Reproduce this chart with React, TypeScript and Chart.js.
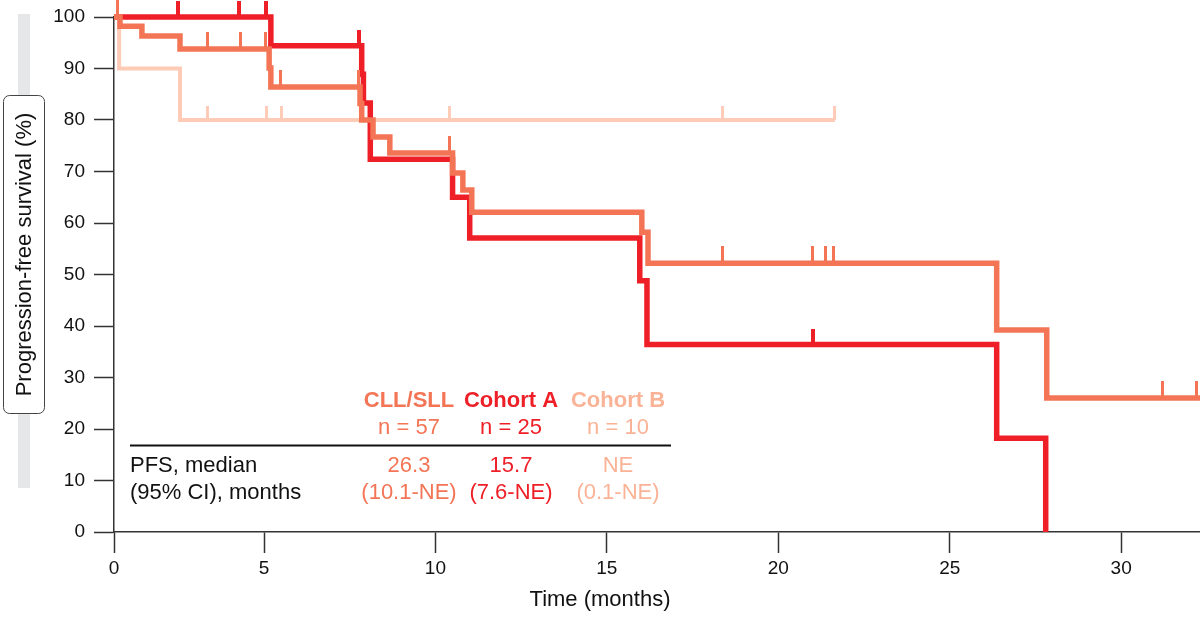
import React, { useEffect, useRef } from 'react';
import { Chart, registerables, LinearScale } from 'chart.js';

Chart.register(...registerables);

const FONT = "'Liberation Sans', Arial, Helvetica, sans-serif";

// Kaplan–Meier steps: value after each event time (months, %)
const cllTimes = [0, 0.2, 0.93, 2.2, 5.15, 5.2, 7.8, 7.85, 8.18, 8.67, 10.5, 10.8, 11.06, 16.02, 16.2, 26.37, 27.83, 32.3];
const cllSurvival = [100, 98.2, 96.3, 93.8, 90.1, 86.4, 83.2, 80.0, 76.7, 73.6, 69.7, 66.4, 62.1, 58.2, 52.2, 39.2, 26.0, 26.0];
const cllCensored = [0.1, 3.1, 4.2, 5.05, 5.48, 7.75, 10.42, 18.38, 21.0, 21.38, 21.6, 31.2, 32.2];

const cohortATimes = [0, 5.2, 7.85, 7.9, 8.1, 10.5, 11.0, 15.96, 16.17, 26.37, 27.8];
const cohortASurvival = [100, 94.4, 88.9, 83.3, 72.4, 65.0, 57.1, 48.8, 36.4, 18.2, 0];
const cohortACensored = [2.13, 4.17, 5.06, 7.77, 21.0];

const cohortBTimes = [0, 0.17, 2.2, 21.65];
const cohortBSurvival = [100, 90, 80, 80];
const cohortBCensored = [3.13, 5.06, 5.52, 10.42, 18.38, 21.65];

const xTickValues = [0, 5, 10, 15, 20, 25, 30];
const yTickValues = [0, 10, 20, 30, 40, 50, 60, 70, 80, 90, 100];
const xMax = 32.3;

// Summary table
const groupNames = ['CLL/SLL', 'Cohort A', 'Cohort B'];
const groupN = ['n = 57', 'n = 25', 'n = 10'];
const groupMedian = ['26.3', '15.7', 'NE'];
const groupCI = ['(10.1-NE)', '(7.6-NE)', '(0.1-NE)'];

const CLL_COLOR = '#F37556';
const A_COLOR = '#EE1F27';
const B_LINE = '#FDCBB6';
const B_TEXT = '#FAB396';
const groupTextColors = [CLL_COLOR, A_COLOR, B_TEXT];

// The first 5 months of the time axis are drawn slightly compressed.
const AXIS_BREAK = 5;
const EARLY_SCALE = 0.875;

class CompressedStartScale extends LinearScale {
  static id = 'compressedStart';
  static defaults = LinearScale.defaults;

  units(v: number) {
    return v <= AXIS_BREAK ? v * EARLY_SCALE : AXIS_BREAK * EARLY_SCALE + (v - AXIS_BREAK);
  }

  getPixelForValue(value: any) {
    if (value === null || value === undefined || isNaN(value)) return NaN;
    const start = this.units(this.min);
    const total = this.units(this.max) - start;
    return this.getPixelForDecimal((this.units(value) - start) / total);
  }

  getValueForPixel(pixel: number) {
    const start = this.units(this.min);
    const total = this.units(this.max) - start;
    const u = this.getDecimalForPixel(pixel) * total + start;
    return u <= AXIS_BREAK * EARLY_SCALE ? u / EARLY_SCALE : u - AXIS_BREAK * EARLY_SCALE + AXIS_BREAK;
  }
}
Chart.register(CompressedStartScale);

function toPoints(times: number[], values: number[]) {
  return times.map((t, i) => ({ x: t, y: values[i] }));
}

function survivalAt(times: number[], values: number[], t: number) {
  let v = values[0];
  for (let i = 0; i < times.length; i++) {
    if (times[i] <= t) v = values[i];
  }
  return v;
}

function censorPoints(censored: number[], times: number[], values: number[]) {
  return censored.map((t) => ({ x: t, y: survivalAt(times, values, t) }));
}

// Upward tick used as the censor marker
function tickMark(color: string, width: number, height: number) {
  const c = document.createElement('canvas');
  c.width = width;
  c.height = height * 2;
  const ctx = c.getContext('2d')!;
  ctx.fillStyle = color;
  ctx.fillRect(0, 0, width, height);
  return c;
}

const overlayPlugin = {
  id: 'overlay',
  beforeDraw(chart: any) {
    const ctx = chart.ctx;
    ctx.save();
    // grey bar behind the y-axis title box
    ctx.fillStyle = '#E6E7E8';
    ctx.fillRect(18, 14, 12, 474);
    // title box
    const bx = 3.5, by = 95.5, bw = 41, bh = 318, r = 6;
    ctx.beginPath();
    ctx.moveTo(bx + r, by);
    ctx.lineTo(bx + bw - r, by);
    ctx.arcTo(bx + bw, by, bx + bw, by + r, r);
    ctx.lineTo(bx + bw, by + bh - r);
    ctx.arcTo(bx + bw, by + bh, bx + bw - r, by + bh, r);
    ctx.lineTo(bx + r, by + bh);
    ctx.arcTo(bx, by + bh, bx, by + bh - r, r);
    ctx.lineTo(bx, by + r);
    ctx.arcTo(bx, by, bx + r, by, r);
    ctx.closePath();
    ctx.fillStyle = '#FFFFFF';
    ctx.fill();
    ctx.strokeStyle = '#444444';
    ctx.lineWidth = 1;
    ctx.stroke();
    ctx.translate(bx + bw / 2, by + bh / 2);
    ctx.rotate(-Math.PI / 2);
    ctx.fillStyle = '#111111';
    ctx.font = `22px ${FONT}`;
    ctx.textAlign = 'center';
    ctx.textBaseline = 'middle';
    ctx.fillText('Progression-free survival (%)', 0, 1);
    ctx.restore();
  },
  afterDraw(chart: any) {
    const ctx = chart.ctx;
    ctx.save();
    ctx.textBaseline = 'middle';
    // x-axis title
    ctx.fillStyle = '#111111';
    ctx.font = `22px ${FONT}`;
    ctx.textAlign = 'center';
    ctx.fillText('Time (months)', 600, 600);

    // summary table
    const cols = [409, 511, 618];
    cols.forEach((cx, i) => {
      ctx.fillStyle = groupTextColors[i];
      ctx.font = `bold 22px ${FONT}`;
      ctx.fillText(groupNames[i], cx, 401);
      ctx.font = `22px ${FONT}`;
      ctx.fillText(groupN[i], cx, 428);
      ctx.fillText(groupMedian[i], cx, 466);
      ctx.fillText(groupCI[i], cx, 493);
    });
    ctx.strokeStyle = '#111111';
    ctx.lineWidth = 2;
    ctx.beginPath();
    ctx.moveTo(130, 445.5);
    ctx.lineTo(671, 445.5);
    ctx.stroke();
    ctx.fillStyle = '#111111';
    ctx.font = `22px ${FONT}`;
    ctx.textAlign = 'left';
    ctx.fillText('PFS, median', 130, 466);
    ctx.fillText('(95% CI), months', 130, 493);
    ctx.restore();
  },
};

export default function App() {
  const ref = useRef<HTMLCanvasElement | null>(null);

  useEffect(() => {
    document.body.style.margin = '0';
    const canvas = ref.current;
    if (!canvas) return;

    const curve = (label: string, times: number[], values: number[], color: string, width: number, order: number) => ({
      type: 'line',
      label,
      data: toPoints(times, values),
      borderColor: color,
      backgroundColor: color,
      borderWidth: width,
      stepped: true,
      pointRadius: 0,
      fill: false,
      clip: false,
      borderCapStyle: 'butt',
      borderJoinStyle: 'miter',
      order,
    });

    const censors = (label: string, pts: any[], color: string, w: number, h: number, order: number) => ({
      type: 'line',
      label,
      data: pts,
      showLine: false,
      pointStyle: tickMark(color, w, h),
      pointRadius: 3,
      borderWidth: 0,
      clip: false,
      order,
    });

    const chart = new Chart(canvas, {
      type: 'line',
      data: {
        datasets: [
          censors('CLL/SLL censored', censorPoints(cllCensored, cllTimes, cllSurvival), CLL_COLOR, 3, 17, 0),
          curve('CLL/SLL', cllTimes, cllSurvival, CLL_COLOR, 5.5, 1),
          censors('Cohort A censored', censorPoints(cohortACensored, cohortATimes, cohortASurvival), A_COLOR, 4, 16, 2),
          curve('Cohort A', cohortATimes, cohortASurvival, A_COLOR, 5.5, 3),
          censors('Cohort B censored', censorPoints(cohortBCensored, cohortBTimes, cohortBSurvival), B_LINE, 3, 14, 4),
          curve('Cohort B', cohortBTimes, cohortBSurvival, B_LINE, 4, 5),
        ] as any,
      },
      options: {
        responsive: false,
        animation: false,
        events: [],
        layout: { autoPadding: false, padding: { top: 17, right: 0, left: 0, bottom: 0 } },
        plugins: { legend: { display: false }, tooltip: { enabled: false } },
        scales: {
          x: {
            type: 'compressedStart' as any,
            min: 0,
            max: xMax,
            afterBuildTicks: (scale: any) => {
              scale.ticks = xTickValues.map((v) => ({ value: v }));
            },
            afterFit: (scale: any) => {
              scale.height = 91;
            },
            grid: {
              display: true,
              drawOnChartArea: false,
              drawTicks: true,
              tickLength: 21,
              tickColor: '#333333',
              tickWidth: 1.5,
            },
            border: { display: true, color: '#333333', width: 1.5 },
            ticks: {
              color: '#111111',
              font: { size: 19, family: FONT },
              padding: 4,
              maxRotation: 0,
              autoSkip: false,
            },
          },
          y: {
            type: 'linear',
            min: 0,
            max: 100,
            afterBuildTicks: (scale: any) => {
              scale.ticks = yTickValues.map((v) => ({ value: v }));
            },
            afterFit: (scale: any) => {
              scale.width = 114;
            },
            grid: {
              display: true,
              drawOnChartArea: false,
              drawTicks: true,
              tickLength: 20,
              tickColor: '#333333',
              tickWidth: 1.5,
            },
            border: { display: true, color: '#333333', width: 1.5 },
            ticks: {
              color: '#111111',
              font: { size: 19, family: FONT, lineHeight: 0.84 },
              padding: 9,
            },
          },
        },
      },
      plugins: [overlayPlugin],
    } as any);

    return () => chart.destroy();
  }, []);

  return <canvas ref={ref} width={1200} height={623} style={{ display: 'block' }} />;
}
